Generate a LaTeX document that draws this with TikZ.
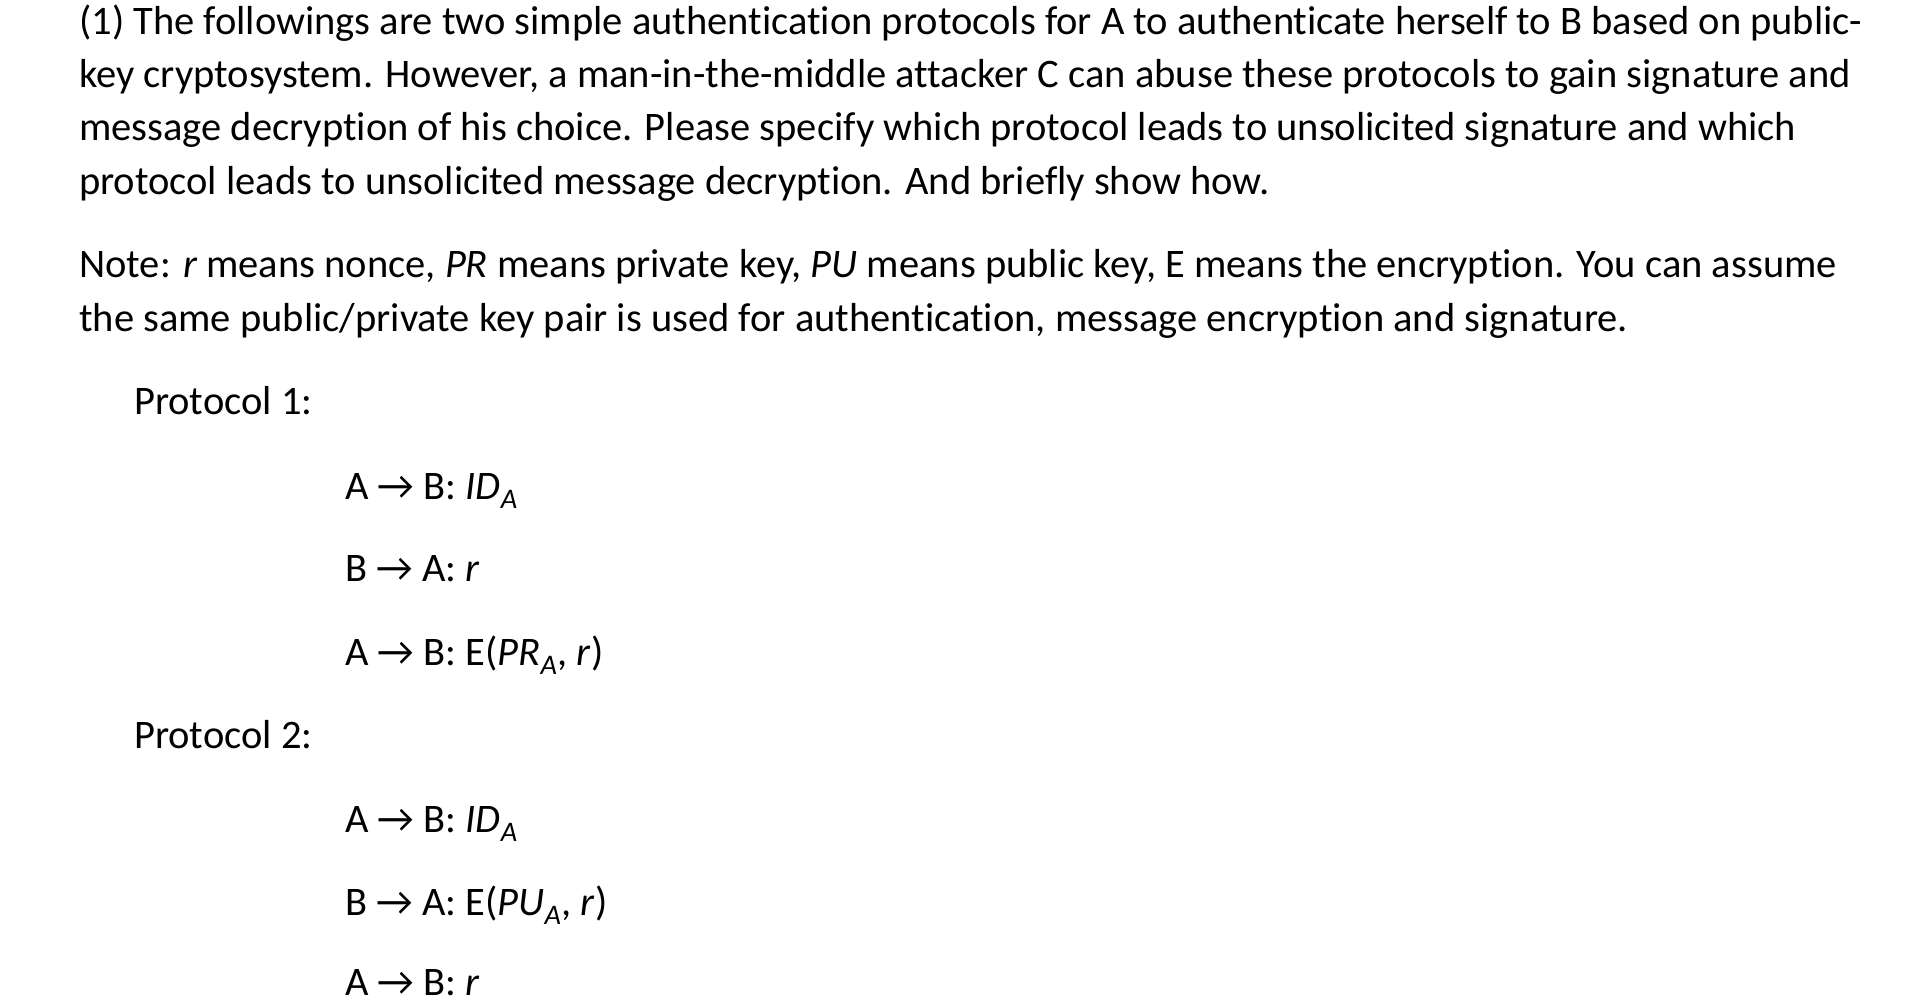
\documentclass[tikz,border=0pt]{standalone}
\usepackage{fontspec}
\setmainfont{Carlito}[Ligatures=NoCommon]
\begin{document}
\begin{tikzpicture}[x=1pt,y=-1pt,
  ln/.style={anchor=base west,inner sep=0pt,font=\fontsize{40.5}{48}\selectfont}]
\useasboundingbox[fill=white] (0,0) rectangle (1917,1000);
\node[ln] (l1) at (79,35) {(1) The followings are two simple authentication protocols for A to authenticate herself to B based on public-};
\node[ln] (l2) at (79,88) {key cryptosystem. However, a man-in-the-middle attacker C can abuse these protocols to gain signature and};
\node[ln] (l3) at (79,141) {message decryption of his choice. Please specify which protocol leads to unsolicited signature and which};
\node[ln] (l4) at (79,195) {protocol leads to unsolicited message decryption. And briefly show how.};
\node[ln] (n1) at (79,278) {Note: \textit{r} means nonce, \textit{PR} means private key, \textit{PU} means public key, E means the encryption. You can assume};
\node[ln] (n2) at (79,331) {the same public/private key pair is used for authentication, message encryption and signature.};
\node[ln] (p1) at (134,414) {Protocol 1:};
\node[ln] (a1) at (345,499) {A → B: \textit{ID\textsubscript{A}}};
\node[ln] (a2) at (345,581) {B → A: \textit{r}};
\node[ln] (a3) at (345,665) {A → B: E(\textit{PR\textsubscript{A}}, \textit{r})};
\node[ln] (p2) at (134,748) {Protocol 2:};
\node[ln] (b1) at (345,832) {A → B: \textit{ID\textsubscript{A}}};
\node[ln] (b2) at (345,915) {B → A: E(\textit{PU\textsubscript{A}}, \textit{r})};
\node[ln] (b3) at (345,995) {A → B: \textit{r}};
\end{tikzpicture}
\end{document}
